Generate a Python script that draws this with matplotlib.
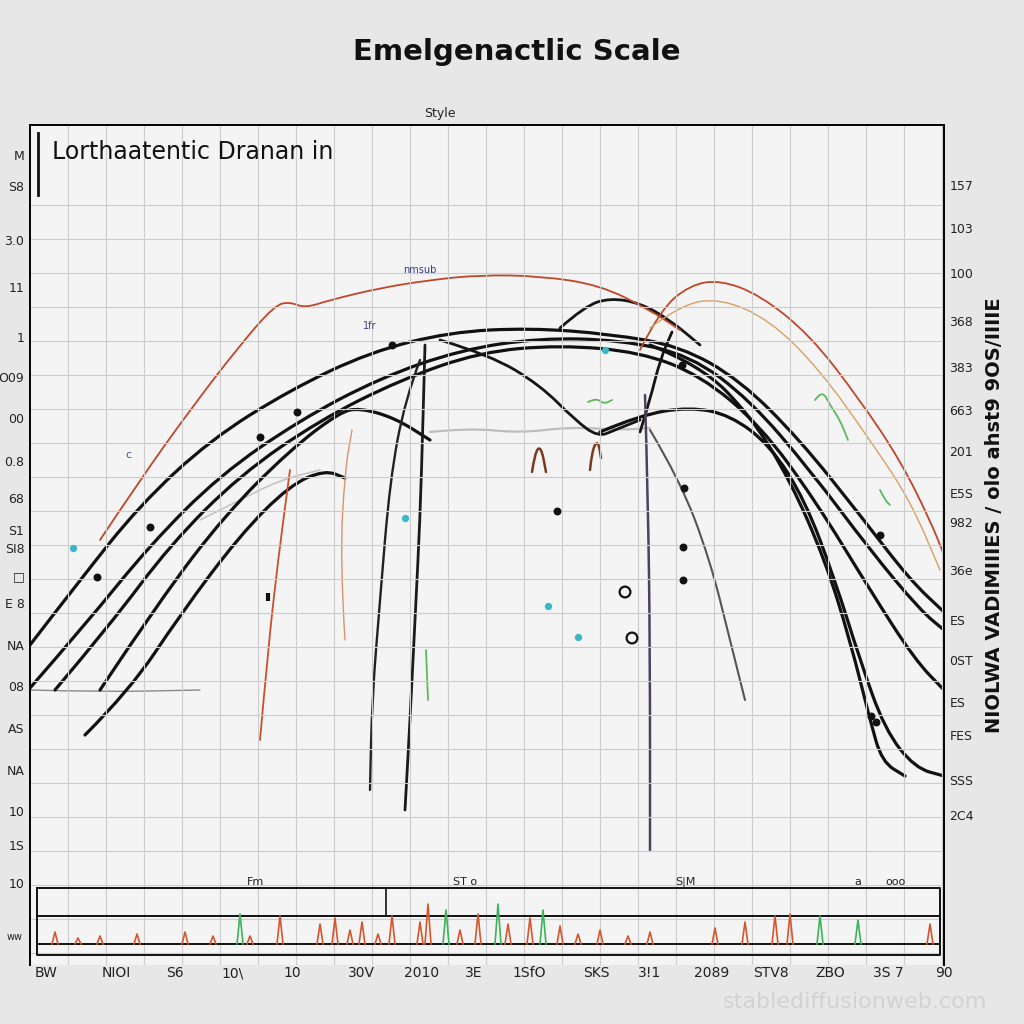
#Importing modules
#===========================================================================
import numpy as np
import matplotlib
matplotlib.use("Agg")
import matplotlib.pyplot as plt
from matplotlib.path import Path
from matplotlib.patches import PathPatch

#Data (x to the right, y downwards as in the image)
#===========================================================================
# black arches
arch_a = [(30,645),(80,580),(140,505),(210,440),(290,390),(370,352),(450,332),(530,328),
          (610,334),(680,346),(740,380),(800,440),(860,515),(910,580),(944,612)]
arch_b = [(30,688),(85,625),(150,545),(220,475),(300,420),(380,378),(460,350),(540,338),
          (620,340),(690,355),(750,400),(810,470),(870,550),(920,610),(944,630)]
arch_c = [(55,690),(110,625),(170,545),(240,475),(320,420),(400,380),(480,352),(560,345),
          (640,352),(700,375),(760,425),(815,500),(870,590),(915,660),(944,690)]
hump_d = [(85,735),(130,690),(180,615),(240,535),(290,485),(325,470),(345,478)]
hump_e = [(100,690),(160,600),(225,515),(290,450),(340,412),(360,408),(395,418),(430,440)]
fall_f = [(600,432),(640,415),(690,407),(730,415),(770,445),(805,500),(835,580),(860,660),
          (885,730),(915,768),(944,776)]
fall_g = [(650,345),(700,365),(750,415),(790,480),(825,560),(850,640),(870,720),(882,762),(905,776)]
vee_h = [(440,340),(490,355),(540,385),(575,420),(598,437),(615,430),(640,420)]
cap_i = [(560,328),(585,306),(610,298),(640,303),(670,320),(700,345)]
rise_j = [(640,432),(650,400),(660,360),(672,332)]
# near vertical strokes
drop_1 = [(425,345),(423,420),(420,520),(415,620),(410,720),(405,810)]
drop_2 = [(420,360),(405,400),(390,480),(380,600),(372,700),(370,790)]
drop_purple = [(645,395),(648,500),(650,650),(650,850)]
drop_gray = [(650,430),(680,480),(710,560),(730,640),(745,700)]
drop_orange = [(260,740),(268,650),(278,560),(290,470)]
drop_light = [(345,640),(340,560),(345,470),(352,430)]
# red / orange arcs
red_1 = [(100,540),(140,480),(190,410),(240,345),(275,305),(290,302),(305,308),(330,300),
         (380,288),(430,280),(480,275),(540,276),(600,285),(650,310),(680,330)]
red_2 = [(640,350),(660,310),(690,285),(720,280),(760,295),(810,335),(860,400),(900,460),
         (930,520),(944,555)]
tan_3 = [(650,328),(680,305),(720,298),(770,320),(820,370),(870,440),(910,500),(940,570)]
hook_1 = [(532,472),(535,452),(541,446),(546,472)]
hook_2 = [(590,470),(592,450),(598,440),(601,458)]
gray_wave = [(430,432),(470,428),(520,433),(570,427),(620,430),(650,428)]
gray_low = [(30,690),(100,692),(200,690)]
gray_mid = [(200,520),(240,500),(280,480),(320,470)]
# green scribbles
green_1 = [(588,402),(596,398),(604,404),(612,400)]
green_2 = [(815,400),(822,390),(830,405),(840,420),(848,440)]
green_3 = [(426,650),(427,675),(428,700)]
green_4 = [(880,490),(885,500),(890,505)]

# dots
dot_x = [97, 150, 260, 297, 392, 682, 684, 557, 683, 683, 880, 871, 876]
dot_y = [577, 527, 437, 412, 345, 365, 488, 511, 547, 580, 535, 716, 722]
ring_x = [625, 632]
ring_y = [592, 638]
cyan_x = [578, 548, 405, 73, 605]
cyan_y = [637, 606, 518, 548, 350]

# tick labels
left_pos = [155, 186, 240, 287, 337, 377, 418, 461, 498, 530, 548, 575, 603, 645, 686, 728, 770, 811, 845, 883]
left_lab = ['M', 'S8', '3.0', '11', '1', 'O09', '00', '0.8', '68', 'S1', 'SI8', '\u25a1', 'E 8',
            'NA', '08', 'AS', 'NA', '10', '1S', '10']
right_pos = [185, 228, 273, 321, 367, 410, 451, 493, 522, 570, 620, 660, 702, 735, 780, 815]
right_lab = ['157', '103', '100', '368', '383', '663', '201', 'E5S', '982', '36e', 'ES', '0ST',
             'ES', 'FES', 'SSS', '2C4']
bottom_pos = [46, 116, 175, 233, 292, 361, 422, 474, 529, 596, 650, 712, 771, 830, 888, 944]
bottom_lab = ['BW', 'NIOI', 'S6', '10\\', '10', '30V', '2010', '3E', '1SfO', 'SKS', '3!1',
              '2089', 'STV8', 'ZBO', '3S 7', '90']

# bottom strip spikes
spike_x = [55, 78, 100, 137, 185, 213, 240, 250, 280, 320, 335, 350, 362, 378, 392, 420, 428,
           446, 460, 478, 498, 508, 530, 543, 560, 578, 600, 628, 650, 715, 745, 775, 790,
           820, 858, 930]
spike_h = [12, 6, 8, 10, 12, 8, 30, 8, 28, 20, 26, 14, 22, 10, 28, 22, 40, 34, 14, 30, 40, 20,
           26, 34, 18, 10, 14, 8, 12, 16, 22, 28, 30, 28, 24, 20]
spike_green = [240, 446, 498, 543, 820, 858]
strip_box = [37, 940, 888, 955]
strip_rows = [916, 944]

#Functions
#===========================================================================
def smooth(ax, pts, **kw):
    verts = [pts[0]]
    codes = [Path.MOVETO]
    for i in range(1, len(pts) - 1):
        mid = ((pts[i][0] + pts[i+1][0]) / 2, (pts[i][1] + pts[i+1][1]) / 2)
        verts += [pts[i], mid]
        codes += [Path.CURVE3, Path.CURVE3]
    verts.append(pts[-1])
    codes.append(Path.LINETO)
    ax.add_patch(PathPatch(Path(verts, codes), fill=False, capstyle='round',
                           joinstyle='round', **kw))

#Main Programme
#===========================================================================
fig = plt.figure(figsize=(10.24, 10.24), dpi=100, facecolor='#e7e7e7')
ax = fig.add_axes([30/1024, 1 - 965/1024, 914/1024, 840/1024])
ax.set_facecolor('#f4f4f4')
ax.set_xlim(30, 944)
ax.set_ylim(965, 125)

# grid
ax.set_xticks(np.arange(68, 944, 38), minor=True)
ax.set_yticks(np.arange(205, 965, 34), minor=True)
ax.grid(which='minor', color='#cdcdcd', lw=0.8)
ax.grid(which='major', visible=False)

ax.set_yticks(left_pos, left_lab)
ax.set_xticks(bottom_pos, bottom_lab)
ax.tick_params(which='both', length=0)
ax.tick_params(axis='y', pad=4, labelsize=9, labelcolor='#222222')
ax.tick_params(axis='x', pad=1, labelsize=10, labelcolor='#222222')
ax.spines['bottom'].set_visible(False)
for s in ['left', 'right', 'top']:
    ax.spines[s].set_linewidth(1.4)

ax2 = ax.twinx()
ax2.set_ylim(965, 125)
ax2.set_yticks(right_pos, right_lab)
ax2.tick_params(length=0, pad=4, labelsize=9, labelcolor='#222222')
for s in ax2.spines.values():
    s.set_visible(False)

# faint background strokes
smooth(ax, gray_wave, color='#bdbdbd', lw=1.6)
smooth(ax, gray_low, color='#8a8a8a', lw=1.0)
smooth(ax, gray_mid, color='#c4c4c4', lw=1.2)

# black arches
for c in [arch_a, arch_b, arch_c, hump_d, hump_e, fall_f, fall_g]:
    smooth(ax, c, color='#111111', lw=2.3)
for c in [vee_h, cap_i, rise_j]:
    smooth(ax, c, color='#151515', lw=2.0)
smooth(ax, drop_1, color='#1a1a1a', lw=2.0)
smooth(ax, drop_2, color='#222222', lw=1.7)
smooth(ax, drop_purple, color='#4b4262', lw=1.8)
smooth(ax, drop_gray, color='#555555', lw=1.5)
smooth(ax, drop_orange, color='#c8502a', lw=1.3)
smooth(ax, drop_light, color='#d9946a', lw=1.0)

# red arcs
smooth(ax, red_1, color='#c0462a', lw=1.3)
smooth(ax, red_2, color='#c0462a', lw=1.3)
smooth(ax, tan_3, color='#d8a060', lw=1.0)
smooth(ax, hook_1, color='#7a3a1e', lw=1.8)
smooth(ax, hook_2, color='#7a3a1e', lw=1.8)

# green scribbles
for c in [green_1, green_2, green_3, green_4]:
    smooth(ax, c, color='#5cb85c', lw=1.3)

# markers
ax.scatter(dot_x, dot_y, s=22, color='#111111', zorder=5)
ax.scatter(ring_x, ring_y, s=60, facecolor='none', edgecolor='#111111', lw=1.6, zorder=5)
ax.scatter(cyan_x, cyan_y, s=18, color='#3ab8c8', zorder=5)
ax.scatter([268], [597], s=30, marker='|', color='#111111', lw=3)

# small scribbles
ax.text(420, 270, 'nmsub', fontsize=7, color='#3a3a8a', ha='center', va='center')
ax.text(370, 326, '1fr', fontsize=7, color='#3a3a8a', ha='center', va='center')
ax.text(128, 455, 'c', fontsize=8, color='#3a5a9a', ha='center', va='center')

# inset title
ax.plot([38, 38], [133, 195], color='#111111', lw=2)
ax.text(52, 152, 'Lorthaatentic Dranan in', fontsize=17, color='#111111',
        ha='left', va='center')

# bottom strip
x0, x1, y0, y1 = strip_box
ax.plot([x0, x1, x1, x0, x0], [y0, y0, y1, y1, y0], color='#111111', lw=1.4)
for r in strip_rows:
    ax.plot([x0, x1], [r, r], color='#111111', lw=1.4)
ax.plot([386, 386], [y0, strip_rows[0]], color='#111111', lw=1.2)
for sx, sh in zip(spike_x, spike_h):
    col = '#3cb35a' if sx in spike_green else '#d4562e'
    ax.plot([sx - 3, sx, sx + 3], [944, 944 - sh, 944], color=col, lw=1.2)
for tx, tt in zip([255, 465, 685, 858, 895], ['Fm', 'ST o', 'S|M', 'a', 'ooo']):
    ax.text(tx, 882, tt, fontsize=8, color='#222222', ha='center', va='center')

# figure texts
fig.text(517/1024, 1 - 52/1024, 'Emelgenactlic Scale', fontsize=21, fontweight='bold',
         color='#111111', ha='center', va='center')
fig.text(440/1024, 1 - 113/1024, 'Style', fontsize=9, color='#222222', ha='center', va='center')
fig.text(15/1024, 1 - 937/1024, 'ww', fontsize=7, color='#222222', ha='center', va='center')
fig.text(995/1024, 1 - 515/1024, 'NIOLWA VADIMIIIES / olo ahst9 9OS/IIIIE', fontsize=14,
         fontweight='bold', rotation=90, color='#111111', ha='center', va='center')
fig.text(855/1024, 1 - 1002/1024, 'stablediffusionweb.com', fontsize=16, color='#d2d2d2',
         ha='center', va='center')

fig.savefig('out.png', dpi=100, facecolor=fig.get_facecolor())
